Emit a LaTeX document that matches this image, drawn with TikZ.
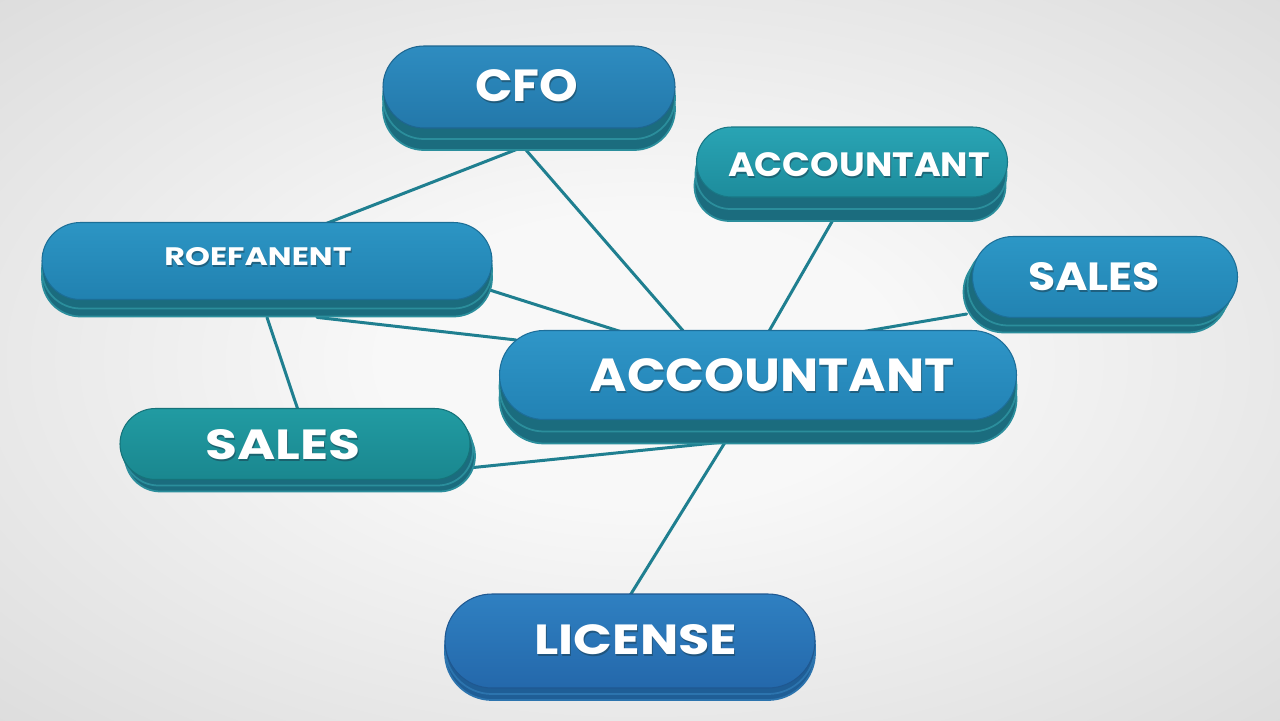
\documentclass[tikz,border=0pt]{standalone}
\usepackage{fontspec}
\setmainfont{Poppins}
\usetikzlibrary{shapes.misc}
\newlength\ul \setlength\ul{0.02cm}
\pgfdeclarelayer{background}\pgfdeclarelayer{lines}
\pgfsetlayers{background,lines,main}
\definecolor{linec}{HTML}{1F7F90}
\definecolor{slabc}{HTML}{1B6C7E}
\definecolor{rimc}{HTML}{2B8E9C}
\definecolor{lslabc}{HTML}{1F5E96}
\definecolor{lrimc}{HTML}{2C74AE}
\definecolor{txtsh}{HTML}{1A3A4A}
\definecolor{bgA}{HTML}{F8F8F8}
\definecolor{bgB}{HTML}{CECECE}
\definecolor{bgC}{HTML}{BABABA}
\definecolor{cfoA}{HTML}{2E8CC0}\definecolor{cfoB}{HTML}{2378AA}
\definecolor{accTA}{HTML}{29A4B4}\definecolor{accTB}{HTML}{1D8C9C}
\definecolor{roeA}{HTML}{2C95C4}\definecolor{roeB}{HTML}{2181B0}
\definecolor{salrA}{HTML}{2C97C6}\definecolor{salrB}{HTML}{2283B2}
\definecolor{accA}{HTML}{2F96C8}\definecolor{accB}{HTML}{2282B4}
\definecolor{sallA}{HTML}{219BA2}\definecolor{sallB}{HTML}{1A878F}
\definecolor{licA}{HTML}{2F80C1}\definecolor{licB}{HTML}{2468AB}
\pgfdeclareradialshading{bgshade}{\pgfpoint{0bp}{0bp}}{color(0bp)=(bgA); color(10bp)=(bgA); color(50bp)=(bgB); color(72bp)=(bgC)}
\tikzset{
  surf/.style 2 args={rounded rectangle, inner sep=0pt, top color=#1, bottom color=#2, draw=#2!85!black, line width=0.6pt},
  slab/.style={rounded rectangle, inner sep=0pt, fill=slabc, draw=rimc, line width=1pt},
  lslab/.style={rounded rectangle, inner sep=0pt, fill=lslabc, draw=lrimc, line width=1pt},
  conn/.style={draw=linec, line width=3\ul, line cap=round},
  lblsh/.style={inner sep=0pt, text=txtsh, opacity=0.5},
  lblw/.style={inner sep=0pt, text=white}
}
\newcommand\lbl[6]{%
  \node[lblsh] (#1-s) at (#2+1,#3+2) {\resizebox{#4\ul}{#5\ul}{\bfseries #6}};
  \node[lblw] (#1) at (#2,#3) {\resizebox{#4\ul}{#5\ul}{\bfseries #6}};
}
\begin{document}
\begin{tikzpicture}[x=0.02cm,y=-0.02cm]
\useasboundingbox (0,0) rectangle (1280,720);
\begin{pgfonlayer}{background}
  \shade[shading=bgshade] (0,0) rectangle (1280,720);
\end{pgfonlayer}

% CFO
\node[slab, minimum width=292\ul, minimum height=82\ul] (cfo-l2) at (529,109) {};
\node[slab, minimum width=292\ul, minimum height=82\ul] (cfo-l1) at (529,98) {};
\node[surf={cfoA}{cfoB}, minimum width=292\ul, minimum height=82\ul] (cfo) at (529,87) {};
\lbl{cfo-t}{527}{86}{103}{32}{CFO}

% Accountant top right
\node[slab, minimum width=311\ul, minimum height=70\ul] (acc2-l2) at (850,186) {};
\node[slab, minimum width=311\ul, minimum height=70\ul] (acc2-l1) at (851,174) {};
\node[surf={accTA}{accTB}, minimum width=311\ul, minimum height=70\ul] (acc2) at (852,162) {};
\lbl{acc2-t}{859}{165}{262}{24}{ACCOUNTANT}

% ROEFANENT
\node[slab, minimum width=450\ul, minimum height=77\ul] (roe-l2) at (267,278) {};
\node[slab, minimum width=450\ul, minimum height=77\ul] (roe-l1) at (267,270) {};
\node[surf={roeA}{roeB}, minimum width=450\ul, minimum height=77\ul] (roe) at (267,261) {};
\lbl{roe-t}{258}{257}{187}{18}{ROEFANENT}

% Sales right
\node[slab, minimum width=265\ul, minimum height=81\ul] (salr-l2) at (1096,292) {};
\node[slab, minimum width=265\ul, minimum height=81\ul] (salr-l1) at (1100,285) {};
\node[surf={salrA}{salrB}, minimum width=265\ul, minimum height=81\ul] (salr) at (1105,277) {};
\lbl{salr-t}{1094}{277}{132}{28}{SALES}

% Central accountant
\node[slab, minimum width=517\ul, minimum height=89\ul] (acc-l2) at (758,399) {};
\node[slab, minimum width=517\ul, minimum height=89\ul] (acc-l1) at (758,387) {};
\node[surf={accA}{accB}, minimum width=517\ul, minimum height=89\ul] (acc) at (758,375) {};
\lbl{acc-t}{772}{375}{365}{33}{ACCOUNTANT}

% Sales left
\node[slab, minimum width=350\ul, minimum height=71\ul] (sall-l2) at (300,456) {};
\node[slab, minimum width=350\ul, minimum height=71\ul] (sall-l1) at (298,450) {};
\node[surf={sallA}{sallB}, minimum width=350\ul, minimum height=71\ul] (sall) at (295,444) {};
\lbl{sall-t}{283}{445}{155}{30}{SALES}

% License
\node[lslab, minimum width=370\ul, minimum height=94\ul] (lic-l2) at (630,653) {};
\node[lslab, minimum width=370\ul, minimum height=94\ul] (lic-l1) at (630,647) {};
\node[surf={licA}{licB}, minimum width=370\ul, minimum height=94\ul] (lic) at (630,641) {};
\lbl{lic-t}{636}{640}{203}{30}{LICENSE}

% connectors
\begin{pgfonlayer}{lines}
  \draw[conn] ([xshift=-11\ul,yshift=2\ul]cfo-l2.south) -- ([xshift=58\ul,yshift=-2\ul]roe.north);
  \draw[conn] ([xshift=-4\ul,yshift=2\ul]cfo-l2.south) -- ([xshift=-73\ul,yshift=-3\ul]acc.north);
  \draw[conn] ([xshift=-17\ul,yshift=2\ul]acc2-l2.south) -- ([xshift=10\ul,yshift=-3\ul]acc.north);
  \draw[conn] ([xshift=4\ul,yshift=-22\ul]salr-l2.west) -- ([xshift=97\ul,yshift=-3\ul]acc.north);
  \draw[conn] ([xshift=-6\ul,yshift=-28\ul]roe.east) -- ([xshift=-133\ul,yshift=-3\ul]acc.north);
  \draw[conn] ([xshift=50\ul]roe-l2.south) -- ([xshift=-242\ul,yshift=-10\ul]acc.north);
  \draw[conn] ([xshift=0\ul]roe-l2.south) -- ([xshift=3\ul,yshift=-2\ul]sall.north);
  \draw[conn] ([xshift=-2\ul,yshift=-24\ul]sall.east) -- ([xshift=-38\ul,yshift=2\ul]acc-l2.south);
  \draw[conn] ([xshift=-33\ul,yshift=2\ul]acc-l2.south) -- ([yshift=-2\ul]lic.north);
\end{pgfonlayer}
\end{tikzpicture}
\end{document}
